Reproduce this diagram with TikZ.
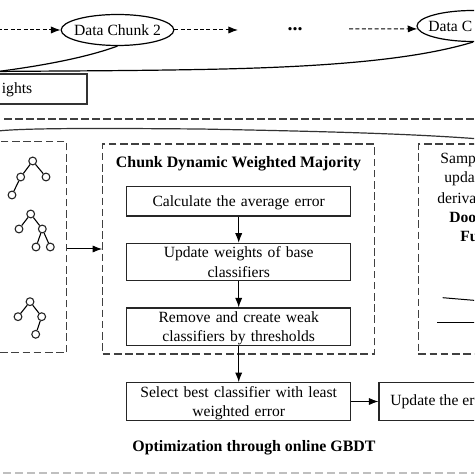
\documentclass[tikz,border=0pt]{standalone}
\usepackage{fontspec}
\setmainfont{Liberation Serif}
\usetikzlibrary{arrows.meta, shapes.geometric}
\tikzset{
    chunk/.style={draw, ellipse, line width=0.6pt, inner ysep=0pt, inner xsep=-1.75pt, minimum height=15.5pt},
    stepbox/.style={draw, line width=0.55pt, black!85, text=black, align=center, inner sep=0pt, minimum width=112pt, text width=110pt},
    oneline/.style={text height=5.2pt, text depth=0pt},
    twoline/.style={text height=5.2pt, text depth=9.2pt},
    dashbox/.style={draw, line width=0.55pt, black!75, dash pattern=on 3.8pt off 1.8pt},
    treenode/.style={draw, circle, line width=0.55pt, black!85, inner sep=0pt, minimum size=3.9pt},
    flow/.style={-{Latex[length=4.8pt,width=3.6pt]}, line width=0.5pt},
    dashflow/.style={flow, dash pattern=on 2pt off 1.2pt},
    label/.style={inner sep=0pt, anchor=west}
}
\begin{document}
\begin{tikzpicture}[x=0.5pt, y=-0.5pt, font=\fontsize{7.8pt}{9.6pt}\selectfont]
    \clip (0,0) rectangle (474,474);
    \fill[white] (0,0) rectangle (474,474);

    % --- Data chunks ---
    \coordinate (InL) at (-2,30);
    \coordinate (DotsL) at (238,30);
    \coordinate (DotsR) at (349,29);
    \coordinate (Merge) at (-2,71.5);
    \node[chunk] (chunk2) at (117.5,30) {Data Chunk 2};
    \node[chunk, minimum width=56pt] (chunkN) at (473,26) {};
    \node[label] (chunkNtext) at (428,26) {Data C};
    \node[inner sep=0pt, font=\fontsize{10pt}{10pt}\bfseries\selectfont] (dots) at (295,29) {...};

    \draw[dashflow] (InL) -- (chunk2.west);
    \draw[dashflow] (chunk2.east) -- (DotsL);
    \draw[dashflow] (DotsR) -- (chunkN.183);

    % --- Curves down to the weights box ---
    \draw[line width=0.6pt] (chunk2.south) .. controls (85,58) and (40,66) .. (Merge);
    \draw[line width=0.6pt] (chunkN.south) .. controls (420,58) and (340,67) .. (200,69.5) .. controls (120,71) and (40,71) .. (Merge);

    % --- Weights box ---
    \node[draw, line width=0.6pt, black!80, minimum width=60pt, minimum height=15pt, inner sep=0pt] (weights) at (27,89) {};
    \node[label] (weightstext) at (1.5,89.5) {ights};

    % --- Separators ---
    \draw[line width=0.55pt, black!75, dash pattern=on 3.8pt off 1.7pt] (4,119) -- (474,119);
    \draw[line width=0.6pt, black!80] (-2,131) .. controls (30,127.5) and (130,128.5) .. (200,129) .. controls (300,131) and (400,133) .. (476,138.7);
    \draw[line width=1pt, black!25, dash pattern=on 4pt off 2pt] (3,472.7) -- (474,472.7);

    % --- Dashed panels ---
    \node[dashbox, minimum width=50pt, minimum height=105.7pt, inner sep=0pt] (ensemble) at (16.5,247.2) {};
    \node[dashbox, minimum width=135.7pt, minimum height=105pt, inner sep=0pt] (cdwm) at (238.4,249) {};
    \node[dashbox, minimum width=60pt, minimum height=105pt, inner sep=0pt] (sampling) at (478.3,249) {};

    % --- Trees ---
    \node[treenode] (a1) at (32.7,161) {};
    \node[treenode] (a2) at (20.7,177) {};
    \node[treenode] (a3) at (46,177) {};
    \node[treenode] (a4) at (12,195) {};
    \draw[line width=0.55pt] (a1) -- (a2) (a1) -- (a3) (a2) -- (a4);

    \node[treenode] (b1) at (30.7,214) {};
    \node[treenode] (b2) at (19,229) {};
    \node[treenode] (b3) at (42.3,229) {};
    \node[treenode] (b4) at (36,247) {};
    \node[treenode] (b5) at (50.3,247) {};
    \draw[line width=0.55pt] (b1) -- (b2) (b1) -- (b3) (b3) -- (b4) (b3) -- (b5);

    \node[treenode] (c1) at (30,301.7) {};
    \node[treenode] (c2) at (18,316.7) {};
    \node[treenode] (c3) at (41.7,316.7) {};
    \node[treenode] (c4) at (35.7,334.3) {};
    \draw[line width=0.55pt] (c1) -- (c2) (c1) -- (c3) (c3) -- (c4);

    % --- Weighted majority steps ---
    \node[inner sep=0pt, font=\fontsize{7.95pt}{9.5pt}\bfseries\selectfont] (title) at (238.5,164) {Chunk Dynamic Weighted Majority};
    \node[stepbox, oneline, minimum height=14.7pt] (avg) at (238.7,201.3) {Calculate the average error};
    \node[stepbox, twoline, minimum height=18.7pt] (update) at (238.7,262) {Update weights of base\\classifiers};
    \node[stepbox, twoline, minimum height=18.7pt] (remove) at (238.7,326.7) {Remove and create weak\\classifiers by thresholds};
    \node[stepbox, twoline, minimum height=18.8pt] (select) at (238.7,401.5) {Select best classifier with least\\weighted error};
    \node[draw, line width=0.55pt, black!85, minimum width=60pt, minimum height=18.8pt, inner sep=0pt] (ens) at (439,401.5) {};
    \node[label] (enstext) at (390,402) {Update the er};
    \node[inner sep=0pt, font=\fontsize{7.95pt}{9.5pt}\bfseries\selectfont] (caption) at (254,447.7) {Optimization through online GBDT};

    \draw[flow] (ensemble.east |- cdwm.west) -- (cdwm.west);
    \draw[flow] (avg) -- (update);
    \draw[flow] (update) -- (remove);
    \draw[flow] (remove) -- (select);
    \draw[flow] (select) -- (ens);

    % --- Right panel, cut by the edge ---
    \node[label] (s1) at (440,160) {Samp};
    \node[label] (s2) at (444,179) {upda};
    \node[label] (s3) at (437,198) {deriva};
    \node[label, font=\fontsize{7.8pt}{9.5pt}\bfseries\selectfont] (s4) at (449,217) {Doo};
    \node[label, font=\fontsize{7.8pt}{9.5pt}\bfseries\selectfont] (s5) at (460,236) {Fu};
    \coordinate (L1a) at (442.7,297.7);
    \coordinate (L1b) at (476,300.5);
    \coordinate (L2a) at (437.3,322);
    \coordinate (L2b) at (476,322);
    \draw[line width=0.5pt] (L1a) -- (L1b);
    \draw[line width=0.5pt] (L2a) -- (L2b);
\end{tikzpicture}
\end{document}
